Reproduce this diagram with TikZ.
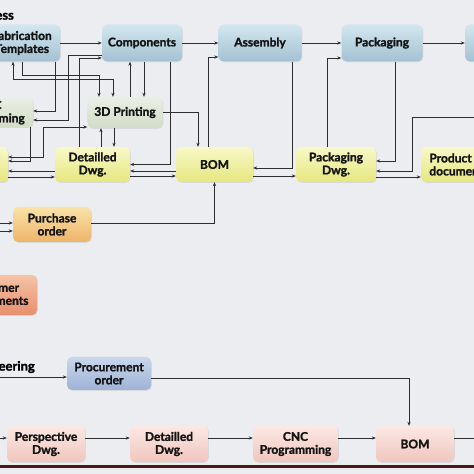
\documentclass[tikz,border=0pt]{standalone}
\usepackage{fontspec}
\setmainfont{Lato}[BoldFeatures={FakeBold=1.6}]
\usetikzlibrary{arrows.meta,shadows}

\definecolor{bg}{HTML}{ECEDF1}
\definecolor{ln}{HTML}{2E2E2E}
\definecolor{bluetop}{HTML}{D3E6EF}
\definecolor{bluebot}{HTML}{A3C2D3}
\definecolor{greytop}{HTML}{EAEFE4}
\definecolor{greybot}{HTML}{D2DCC8}
\definecolor{ylwtop}{HTML}{F8F8C8}
\definecolor{ylwbot}{HTML}{E6E77E}
\definecolor{orgtop}{HTML}{FAE2A8}
\definecolor{orgbot}{HTML}{EDB46A}
\definecolor{saltop}{HTML}{F6C3A6}
\definecolor{salbot}{HTML}{E88E6C}
\definecolor{lavtop}{HTML}{CAD6EC}
\definecolor{lavbot}{HTML}{9FB3D6}
\definecolor{pnktop}{HTML}{FCE8E4}
\definecolor{pnkbot}{HTML}{F0C6BE}
\definecolor{baseline}{HTML}{4A1A12}

\begin{document}
\begin{tikzpicture}[x=1pt, y=1pt, >={Stealth[length=4pt,width=3.2pt]},
	box/.style={rounded corners=5pt, align=center, inner sep=0pt, text=black!92,
		font=\bfseries\fontsize{12}{13}\selectfont,
		drop shadow={opacity=0.18, shadow xshift=0.8pt, shadow yshift=-0.8pt}},
	wh/.style 2 args={minimum width=#1, minimum height=#2},
	bluebox/.style={top color=bluetop, bottom color=bluebot},
	greybox/.style={top color=greytop, bottom color=greybot},
	ylwbox/.style={top color=ylwtop, bottom color=ylwbot},
	orgbox/.style={top color=orgtop, bottom color=orgbot},
	salbox/.style={top color=saltop, bottom color=salbot},
	lavbox/.style={top color=lavtop, bottom color=lavbot},
	pnkbox/.style={top color=pnktop, bottom color=pnkbot},
	lbl/.style={font=\bfseries\fontsize{13}{15}\selectfont, inner sep=0pt},
	link/.style={draw=ln, line width=0.7pt}]

	\useasboundingbox (0,0) rectangle (474,474);
	\clip (0,0) rectangle (474,474);
	\fill [color=bg] (0,0) rectangle (474,474);

	% top row
	\node [box, bluebox, wh={76}{37}] (fab) at (22,431) {Fabrication\\Templates};
	\node [box, bluebox, wh={80}{37}] (comp) at (142,431) {Components};
	\node [box, bluebox, wh={83}{37}] (asm) at (260,431) {Assembly};
	\node [box, bluebox, wh={81}{37}] (pack) at (382,431) {Packaging};
	\node [box, bluebox, wh={80}{37}] (ship) at (505,431) {};

	\node [box, greybox, wh={88}{29}] (cnc) at (-11,361.5) {CNC\\Programming};
	\node [box, greybox, wh={75}{31}] (print) at (125,361.5) {3D Printing};

	\node [box, ylwbox, wh={78}{35}] (persp) at (-31,309.5) {Perspective\\Dwg.};
	\node [box, ylwbox, wh={75}{35}] (dd) at (92.5,309.5) {Detailled\\Dwg.};
	\node [box, ylwbox, wh={77}{35}] (bom) at (214.5,309.5) {BOM};
	\node [box, ylwbox, wh={80}{35}] (pdwg) at (336,309.5) {Packaging\\Dwg.};
	\node [box, ylwbox, wh={98}{35}, align=left] (pdoc) at (470,309.5) {Product\\documentation};

	\node [box, orgbox, wh={78}{35}] (po) at (52,249.5) {Purchase\\order};
	\node [box, salbox, wh={88}{40}] (cr) at (-7,179) {Customer\\requirements};

	\node [lbl, anchor=east] (process) at (14,459) {Process};
	\node [lbl, anchor=east] (eng) at (35,107) {Engineering};

	% bottom row
	\node [box, lavbox, wh={84}{33}] (proc) at (109,100.5) {Procurement\\order};
	\node [box, pnkbox, wh={78}{36}] (bpersp) at (46,30) {Perspective\\Dwg.};
	\node [box, pnkbox, wh={78}{36}] (bdd) at (169,30) {Detailled\\Dwg.};
	\node [box, pnkbox, wh={85}{36}] (bcnc) at (295.5,30) {CNC\\Programming};
	\node [box, pnkbox, wh={78}{36}] (bbom) at (415,30) {BOM};

	\coordinate (inpo1) at (-15,251);
	\coordinate (inpo2) at (-15,243);
	\coordinate (inproc) at (-15,97);
	\coordinate (inbot) at (-15,36);
	\coordinate (outbot) at (490,36);
	\coordinate (inpdwg) at (490,357);

	% top row flow
	\draw [link, ->] (fab) -- (comp);
	\draw [link, ->] (comp) -- (asm);
	\draw [link, ->] (asm) -- (pack);
	\draw [link, ->] (pack) -- (ship);

	\draw [link, ->] (fab.south) |- (99,399) -- ([xshift=-26pt]print.north);
	\draw [link, <->] ([xshift=-9pt]fab.south) |- (113,395) -- ([xshift=-12pt]print.north);
	\draw [link, ->] ([xshift=33pt]fab.south) |- ([yshift=1.5pt]cnc.east);
	\draw [link, ->] ([yshift=-12pt]comp.west) -| (68,354) -- ([yshift=-7.5pt]cnc.east);
	\draw [link, ->] ([xshift=-13.5pt]dd.north) |- ([yshift=-15pt]comp.west);
	\draw [link, ->] ([xshift=5pt]print.north) -- ([xshift=-12pt]comp.south);
	\draw [link, ->] ([xshift=2pt]comp.south) -- ([xshift=19pt]print.north);
	\draw [link, ->] ([xshift=28pt]comp.south) |- (dd.east);
	\draw [link, ->] (print.east) -| ([xshift=-16.5pt]bom.north);
	\draw [link, ->] ([xshift=8.5pt]dd.north) -- ([xshift=-24pt]print.south);
	\draw [link, ->] ([xshift=-11pt]print.south) -- ([xshift=21.5pt]dd.north);
	\draw [link, <->] ([yshift=7.5pt]persp.east) -| (43,347) -- ([yshift=-14.5pt]print.west);
	\draw [link, ->] ([xshift=41pt]cnc.south) |- ([yshift=3.5pt]persp.east);

	% yellow row
	\draw [link, ->] ([yshift=-6.5pt]dd.west) -- ([yshift=-6.5pt]persp.east);
	\draw [link, ->] ([yshift=-12.5pt]persp.east) -- ([yshift=-12.5pt]dd.west);
	\draw [link, ->] ([yshift=-6.5pt]bom.west) -- ([yshift=-6.5pt]dd.east);
	\draw [link, ->] ([yshift=-11.5pt]dd.east) -- ([yshift=-11.5pt]bom.west);
	\draw [link, ->] ([xshift=-6.5pt]bom.north) |- ([yshift=-14pt]asm.west);
	\draw [link, ->] ([xshift=32pt]asm.south) |- ([yshift=-3.5pt]bom.east);
	\draw [link, ->] ([yshift=-11.5pt]bom.east) -- ([yshift=-11.5pt]pdwg.west);
	\draw [link, ->] ([xshift=-9pt]pdwg.north) |- ([yshift=-15pt]pack.west);
	\draw [link, ->] ([xshift=13pt]pack.south) |- ([yshift=3.5pt]pdwg.east);
	\draw [link, ->] (inpdwg) -| (412,303) -- ([yshift=-6.5pt]pdwg.east);
	\draw [link, ->] ([yshift=-12.5pt]pdwg.east) -- ([yshift=-12.5pt]pdoc.west);

	% purchase
	\draw [link, ->] (inpo1) -- ([yshift=1.5pt]po.west);
	\draw [link, ->] (inpo2) -- ([yshift=-6.5pt]po.west);
	\draw [link, ->] ([yshift=1.5pt]po.east) -| (bom.south);

	% engineering
	\draw [link, ->] (inproc) -- ([yshift=-3.5pt]proc.west);
	\draw [link, ->] ([yshift=-4.5pt]proc.east) -| ([xshift=-6pt]bbom.north);
	\draw [link, ->] (inbot) -- ([yshift=6pt]bpersp.west);
	\draw [link, ->] ([yshift=6pt]bpersp.east) -- ([yshift=6pt]bdd.west);
	\draw [link, ->] ([yshift=6pt]bdd.east) -- ([yshift=6pt]bcnc.west);
	\draw [link, ->] ([yshift=6pt]bcnc.east) -- ([yshift=6pt]bbom.west);
	\draw [link] ([yshift=6pt]bbom.east) -- (outbot);

	\draw [line width=3pt, color=baseline] (-5,7) -- (480,7);
\end{tikzpicture}
\end{document}
